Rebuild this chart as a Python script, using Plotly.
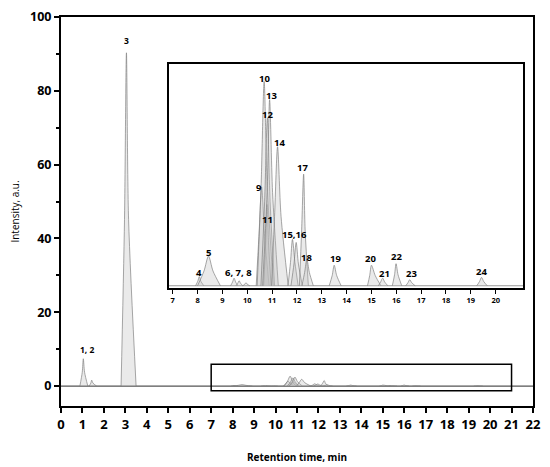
import plotly.graph_objects as go

# peak table (retention time in min, intensity in a.u.)
PEAK_ID = ["1", "2", "3", "4", "5", "6", "7", "8", "9", "10", "11", "12",
           "13", "14", "15", "16", "17", "18", "19", "20", "21", "22", "23", "24"]
PEAK_RT = [1.04, 1.43, 3.05, 8.07, 8.44, 9.47, 9.67, 9.95, 10.58, 10.68, 10.80, 10.81,
           10.90, 11.22, 11.82, 11.97, 12.27, 12.40, 13.50, 15.00, 15.45, 15.99, 16.54, 19.43]
PEAK_HEIGHT = [7.4, 1.6, 90.3, 0.12, 0.39, 0.10, 0.066, 0.04, 1.30, 2.69, 1.07, 2.21,
               2.45, 1.83, 0.61, 0.57, 1.47, 0.35, 0.27, 0.27, 0.10, 0.29, 0.08, 0.11]
PEAK_START = [0.88, 1.31, 2.80, 7.92, 8.00, 9.33, 9.55, 9.82, 10.36, 10.40, 10.66, 10.55,
              10.62, 10.98, 11.64, 11.76, 12.10, 12.20, 13.30, 14.84, 15.28, 15.84, 16.38, 19.24]
PEAK_HALF_L = [0.99, 1.39, 2.96, 8.01, 8.26, 9.41, 9.62, 9.90, 10.47, 10.56, 10.74, 10.70,
               10.80, 11.10, 11.74, 11.88, 12.19, 12.31, 13.42, 14.93, 15.37, 15.93, 16.47, 19.35]
PEAK_HALF_R = [1.10, 1.49, 3.15, 8.13, 8.62, 9.53, 9.73, 10.00, 10.70, 10.80, 10.86, 10.92,
               11.02, 11.36, 11.92, 12.06, 12.33, 12.50, 13.60, 15.15, 15.53, 16.07, 16.62, 19.52]
PEAK_END = [1.25, 1.66, 3.50, 8.25, 8.92, 9.62, 9.82, 10.10, 10.88, 11.05, 10.96, 11.10,
            11.25, 11.65, 12.05, 12.22, 12.46, 12.66, 13.78, 15.38, 15.66, 16.22, 16.76, 19.66]

# peak labels
MAIN_LABELS = ["1, 2", "3"]
MAIN_LABEL_X = [1.2, 3.05]
MAIN_LABEL_Y = [9.9, 93.5]
INSET_LABELS = ["4", "5", "6, 7, 8", "9", "10", "11", "12", "13", "14", "15,16",
                "17", "18", "19", "20", "21", "22", "23", "24"]
INSET_LABEL_X = [8.06, 8.46, 9.65, 10.49, 10.68, 10.81, 10.81, 10.99, 11.29, 11.90,
                 12.24, 12.40, 13.57, 14.96, 15.52, 16.02, 16.60, 19.43]
INSET_LABEL_Y = [0.18, 0.44, 0.18, 1.30, 2.73, 0.875, 2.26, 2.50, 1.88, 0.67,
                 1.56, 0.37, 0.36, 0.36, 0.16, 0.38, 0.16, 0.19]

INSET_TICKS = list(range(7, 21))

FILL = "rgba(190,190,190,0.32)"
EDGE = "rgba(125,125,125,0.85)"
FONT = "Open Sans"

fig = go.Figure()

# baselines
fig.add_trace(go.Scatter(x=[0, 22], y=[0, 0], mode="lines",
                         line=dict(color="#555555", width=1.2),
                         hoverinfo="skip", showlegend=False))
fig.add_trace(go.Scatter(x=[6.85, 21.1], y=[0, 0], mode="lines",
                         line=dict(color="#999999", width=1),
                         xaxis="x2", yaxis="y2", hoverinfo="skip", showlegend=False))

for i, pid in enumerate(PEAK_ID):
    h = PEAK_HEIGHT[i]
    xs = [PEAK_START[i], PEAK_HALF_L[i], PEAK_RT[i], PEAK_HALF_R[i], PEAK_END[i]]
    ys = [0, h / 2, h, h / 2, 0]
    style = dict(mode="lines", line=dict(color=EDGE, width=0.8, shape="spline", smoothing=0.8),
                 fill="tozeroy", fillcolor=FILL, name="peak " + pid, showlegend=False)
    fig.add_trace(go.Scatter(x=xs, y=ys, **style))
    if PEAK_RT[i] > 7:
        fig.add_trace(go.Scatter(x=xs, y=ys, xaxis="x2", yaxis="y2", **style))

annotations = []
for t, x, y in zip(MAIN_LABELS, MAIN_LABEL_X, MAIN_LABEL_Y):
    annotations.append(dict(text=t, x=x, y=y, xref="x", yref="y", showarrow=False,
                            font=dict(family=FONT, size=8.5, color="black", weight="bold")))
for t, x, y in zip(INSET_LABELS, INSET_LABEL_X, INSET_LABEL_Y):
    annotations.append(dict(text=t, x=x, y=y, xref="x2", yref="y2", showarrow=False,
                            font=dict(family=FONT, size=9.5, color="black", weight="bold")))

# page body has an 8px margin, so the figure is 8px smaller than the window
fig.update_layout(
    width=542, height=459,
    margin=dict(l=53, r=17, t=9, b=61),
    paper_bgcolor="white", plot_bgcolor="white",
    showlegend=False,
    annotations=annotations,
    shapes=[dict(type="rect", xref="x", yref="y", x0=7, x1=21, y0=-1.3, y1=5.9,
                 line=dict(color="black", width=1.5))],
    xaxis=dict(range=[0, 22], dtick=1, tick0=0, showgrid=False, zeroline=False,
               automargin=False, ticklabeloverflow="allow",
               showline=True, mirror=True, linecolor="black", linewidth=2,
               ticks="outside", ticklen=5, tickwidth=1.5, tickcolor="black",
               tickfont=dict(family=FONT, size=13, color="black", weight="bold"),
               title=dict(text="Retention time, min", standoff=22,
                          font=dict(family=FONT, size=10, color="black", weight="bold"))),
    yaxis=dict(range=[-5.4, 100], tickvals=[0, 20, 40, 60, 80, 100], showgrid=False,
               automargin=False, ticklabeloverflow="allow",
               zeroline=False, showline=True, mirror=True, linecolor="black", linewidth=2,
               ticks="outside", ticklen=5, tickwidth=1.5, tickcolor="black",
               minor=dict(ticks="outside", ticklen=3, tickwidth=1.5, dtick=10, tick0=0,
                          tickcolor="black", showgrid=False),
               tickfont=dict(family=FONT, size=12.5, color="black", weight="bold"),
               title=dict(text="Intensity, a.u.", standoff=16,
                          font=dict(family=FONT, size=10, color="black"))),
    xaxis2=dict(domain=[0.2288, 0.9788], anchor="y2", range=[6.85, 21.1],
                tickvals=INSET_TICKS, showgrid=False, zeroline=False, automargin=False,
                showline=True, mirror=True, linecolor="black", linewidth=1.5,
                ticks="outside", ticklen=4, tickwidth=1, tickcolor="black",
                tickfont=dict(family=FONT, size=7.5, color="black", weight="bold")),
    yaxis2=dict(domain=[0.3033, 0.8792], anchor="x2", range=[-0.03, 2.92], automargin=False,
                showgrid=False, zeroline=False, showticklabels=False, ticks="",
                showline=True, mirror=True, linecolor="black", linewidth=1.5),
)

fig.write_html("out.html")
